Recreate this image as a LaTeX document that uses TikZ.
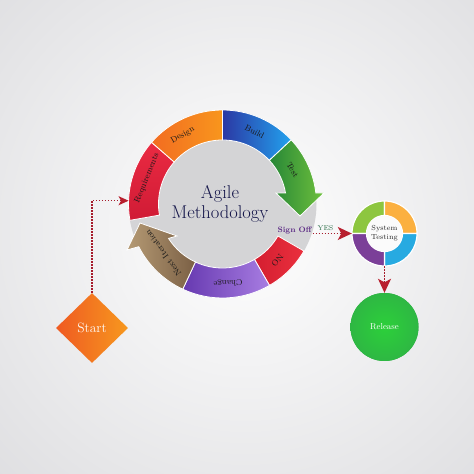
\documentclass[tikz,border=0pt]{standalone}
\usetikzlibrary{arrows.meta,shapes.geometric,calc}
\definecolor{bgout}{HTML}{C0C0C5}
\definecolor{discgray}{HTML}{D4D4D6}
\definecolor{reqA}{HTML}{EA2A42}
\definecolor{reqB}{HTML}{D01B35}
\definecolor{desA}{HTML}{F26C21}
\definecolor{desB}{HTML}{F8961D}
\definecolor{bldA}{HTML}{2B38A4}
\definecolor{bldB}{HTML}{22A2EE}
\definecolor{tstA}{HTML}{268637}
\definecolor{tstB}{HTML}{6EC03C}
\definecolor{noA}{HTML}{EA303E}
\definecolor{noB}{HTML}{D41E30}
\definecolor{chgA}{HTML}{6639B0}
\definecolor{chgB}{HTML}{A87DE2}
\definecolor{nxtA}{HTML}{B59A74}
\definecolor{nxtB}{HTML}{7B6045}
\definecolor{navy}{HTML}{15164A}
\definecolor{dotred}{HTML}{A61C2C}
\definecolor{arrred}{HTML}{B81F2E}
\definecolor{sopurple}{HTML}{5E2D86}
\definecolor{yesgreen}{HTML}{2B6E48}
\definecolor{stGreen}{HTML}{8DC63F}
\definecolor{stOrange}{HTML}{FBB040}
\definecolor{stBlue}{HTML}{27AAE1}
\definecolor{stPurple}{HTML}{7B3F98}
\definecolor{relOut}{HTML}{2FAA48}
\definecolor{relIn}{HTML}{2CD03A}
\definecolor{startA}{HTML}{EF5A22}
\definecolor{startB}{HTML}{F7981E}
\newcommand\ringseg[3]{\path[segedge,#3] (#1:94) arc[start angle=#1,end angle=#2,radius=94] -- (#2:64) arc[start angle=#2,end angle=#1,radius=64] -- cycle;}
\newcommand\quadseg[3]{\path[quadedge,fill=#3] (#1:32.5) arc[start angle=#1,end angle=#2,radius=32.5] -- (#2:18) arc[start angle=#2,end angle=#1,radius=18] -- cycle;}
\begin{document}
\begin{tikzpicture}[x=1pt,y=1pt,
  segedge/.style={draw=white,line width=0.8pt},
  quadedge/.style={draw=white,line width=1.2pt},
  seglabel/.style={font=\fontsize{8.3}{9}\selectfont,text=black!90,inner sep=0pt},
  dotline/.style={draw=dotred,line width=1.4pt,dash pattern=on 1.4pt off 1.6pt},
  tipsmall/.style={-{Stealth[length=10pt,width=9pt,inset=2.5pt,color=arrred]}},
  tipbig/.style={-{Stealth[length=14pt,width=13pt,inset=3.5pt,color=arrred]}}
]
\useasboundingbox (0,0) rectangle (474,474);
% background
\begin{scope}
\clip (0,0) rectangle (474,474);
\shade[inner color=white, outer color=bgout] (245,245) circle (690);
\end{scope}

% main cycle
\begin{scope}[shift={(222.5,270)}]
\fill[discgray] (0,0) circle (94);
\ringseg{190}{139}{top color=reqA,bottom color=reqB}
\ringseg{139}{90}{left color=desA,right color=desB}
\ringseg{90}{43}{left color=bldA,right color=bldB}
\path[segedge,left color=tstA,right color=tstB] (43:94) arc[start angle=43,end angle=6.72,radius=94] -- (101.5,11) -- (77.5,-12) -- (53.5,11) -- (9.89:64) arc[start angle=9.89,end angle=43,radius=64] -- cycle;
\ringseg{-30}{-60}{left color=noB,right color=noA}
\ringseg{-60}{-115}{left color=chgA,right color=chgB}
\path[segedge,left color=nxtA,right color=nxtB] (245:94) arc[start angle=245,end angle=207,radius=94] -- (-95.5,-46) -- (-82.5,-19) -- (-45.5,-32) -- (212.5:64) arc[start angle=212.5,end angle=245,radius=64] -- cycle;
\node[seglabel,rotate=68] (lreq) at (161:80) {Requirements};
\node[seglabel,rotate=30] (ldes) at (120:79.5) {Design};
\node[seglabel,rotate=-28] (lbld) at (66:79) {Build};
\node[seglabel,rotate=-60] (ltst) at (26:78) {Test};
\node[seglabel,rotate=-128] (lno) at (-46:79) {NO};
\node[seglabel,rotate=184] (lchg) at (-86:79) {Change};
\node[seglabel,rotate=126] (lnxt) at (219.5:77) {Next Iteration};
\coordinate (reqin) at (178:94);
\end{scope}

\node[font=\fontsize{18.5}{20}\selectfont,align=center,text=navy,inner sep=0pt] (title) at (220,270) {Agile\\Methodology};

% start
\node[diamond,minimum width=72pt,minimum height=70pt,inner sep=0pt,left color=startA,right color=startB,text=white!96!orange,font=\fontsize{13.5}{15}\selectfont] (start) at (92,146) {Start};
\draw[dotline,tipsmall] (start.north) |- (reqin);

% sign off
\node[font=\fontsize{7.8}{9}\selectfont\bfseries,text=sopurple,inner sep=1pt] (signoff) at (294.5,243.3) {Sign Off};
\node[font=\fontsize{7}{8}\selectfont,text=yesgreen,inner sep=0pt] (yes) at (325.5,245.8) {YES};

% system testing
\begin{scope}[shift={(384.5,240.5)}]
\quadseg{90}{180}{stGreen}
\quadseg{0}{90}{stOrange}
\quadseg{270}{360}{stBlue}
\quadseg{180}{270}{stPurple}
\fill[white!97!gray] (0,0) circle (17.4);
\end{scope}
\node[circle,minimum size=65pt,inner sep=0pt,align=center,font=\fontsize{7.3}{8.8}\selectfont,text=black!85] (sys) at (384.5,240.5) {System\\Testing};
\draw[dotline,tipbig] (signoff.east |- sys.west) -- (sys.west);

% release
\node[circle,minimum size=68pt,inner sep=0pt,fill=relOut,path picture={\shade[inner color=relIn,outer color=relOut] (path picture bounding box.center) circle (52pt);},text=white,font=\fontsize{8.6}{10}\selectfont] (rel) at (384.5,147) {Release};
\draw[dotline,tipbig] (sys.south) -- (rel.north);
\end{tikzpicture}
\end{document}
